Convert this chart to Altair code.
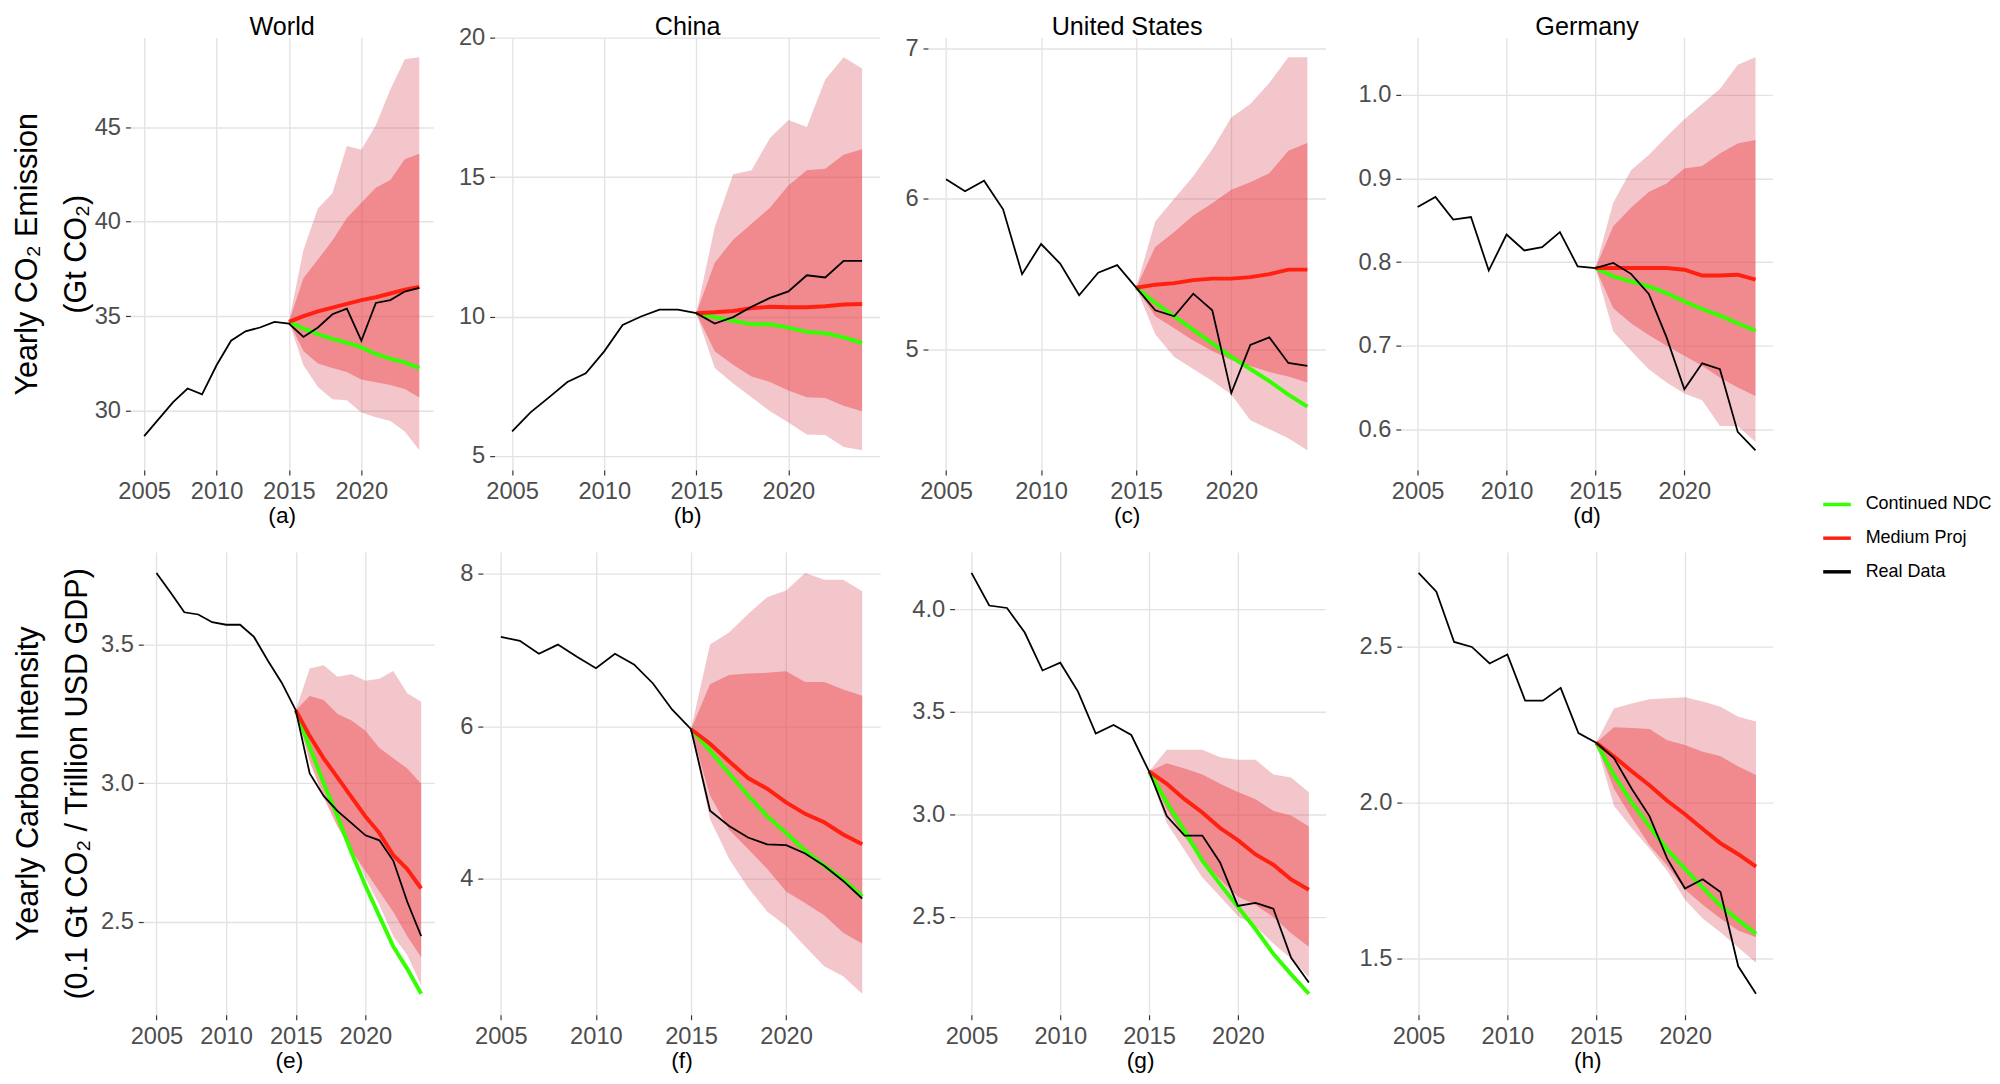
import altair as alt
import pandas as pd

FONT = "Liberation Sans"

YEARS_REAL = list(range(2005, 2025))
YEARS_PROJ = list(range(2015, 2025))
X_TICKS = [2005, 2010, 2015, 2020]

SERIES = ["Continued NDC", "Medium Proj", "Real Data"]
SERIES_COLORS = ["#33FF00", "#FF2010", "#000000"]
OUTER_COLOR = "#D44152"
INNER_COLOR = "#EE4E51"

PANEL_TITLES = ["World", "China", "United States", "Germany"]
PANEL_LETTERS = ["(a)", "(b)", "(c)", "(d)", "(e)", "(f)", "(g)", "(h)"]
Y_TITLE_TOP = ["Yearly CO\u2082 Emission", "(Gt CO\u2082)"]
Y_TITLE_BOTTOM = ["Yearly Carbon Intensity", "(0.1 Gt CO\u2082 / Trillion USD GDP)"]

# ---------- (a) World, yearly CO2 emission ----------
A_REAL = [28.65, 29.55, 30.45, 31.17, 30.86, 32.4, 33.7, 34.2, 34.4, 34.7,
          34.6, 33.9, 34.4, 35.1, 35.4, 33.7, 35.7, 35.85, 36.3, 36.5]
A_MED = [34.7, 35.0, 35.25, 35.45, 35.65, 35.85, 36.0, 36.2, 36.4, 36.55]
A_NDC = [34.7, 34.35, 34.05, 33.8, 33.6, 33.35, 33.0, 32.75, 32.55, 32.25]
A_OHI = [34.7, 38.5, 40.7, 41.5, 44.0, 43.8, 45.1, 47.0, 48.6, 48.7]
A_OLO = [34.7, 32.4, 31.25, 30.6, 30.55, 29.9, 29.65, 29.45, 28.9, 27.9]
A_IHI = [34.7, 37.0, 38.0, 39.0, 40.2, 41.0, 41.8, 42.2, 43.3, 43.6]
A_ILO = [34.7, 33.15, 32.5, 32.25, 32.05, 31.65, 31.5, 31.35, 31.15, 30.7]
A_TICKS = [30, 35, 40, 45]

# ---------- (b) China, yearly CO2 emission ----------
B_REAL = [5.88, 6.56, 7.1, 7.65, 7.96, 8.75, 9.7, 10.0, 10.25, 10.25,
          10.12, 9.75, 9.98, 10.35, 10.67, 10.9, 11.48, 11.4, 12.0, 12.0]
B_MED = [10.12, 10.15, 10.2, 10.3, 10.35, 10.33, 10.33, 10.37, 10.43, 10.45]
B_NDC = [10.12, 9.98, 9.85, 9.72, 9.72, 9.6, 9.45, 9.4, 9.25, 9.05]
B_OHI = [10.12, 13.2, 15.1, 15.25, 16.4, 17.05, 16.8, 18.5, 19.3, 18.9]
B_OLO = [10.12, 8.15, 7.6, 7.1, 6.6, 6.2, 5.77, 5.75, 5.32, 5.2]
B_IHI = [10.12, 11.93, 12.75, 13.33, 13.9, 14.7, 15.25, 15.3, 15.8, 16.0]
B_ILO = [10.12, 8.75, 8.27, 7.85, 7.65, 7.35, 7.1, 7.08, 6.8, 6.6]
B_TICKS = [5, 10, 15, 20]

# ---------- (c) United States, yearly CO2 emission ----------
C_REAL = [6.13, 6.05, 6.12, 5.93, 5.5, 5.7, 5.57, 5.36, 5.51, 5.56,
          5.41, 5.26, 5.22, 5.37, 5.26, 4.71, 5.03, 5.08, 4.91, 4.89]
C_MED = [5.41, 5.43, 5.44, 5.46, 5.47, 5.47, 5.48, 5.5, 5.53, 5.53]
C_NDC = [5.41, 5.31, 5.22, 5.13, 5.04, 4.95, 4.87, 4.79, 4.70, 4.62]
C_OHI = [5.41, 5.85, 6.0, 6.15, 6.33, 6.54, 6.63, 6.77, 6.94, 6.94]
C_OLO = [5.41, 5.1, 4.95, 4.87, 4.79, 4.7, 4.53, 4.47, 4.41, 4.33]
C_IHI = [5.41, 5.68, 5.78, 5.89, 5.97, 6.06, 6.11, 6.17, 6.32, 6.37]
C_ILO = [5.41, 5.22, 5.14, 5.06, 4.99, 4.93, 4.89, 4.85, 4.82, 4.78]
C_TICKS = [5, 6, 7]

# ---------- (d) Germany, yearly CO2 emission ----------
D_REAL = [0.866, 0.878, 0.851, 0.854, 0.790, 0.833, 0.814, 0.818, 0.836, 0.795,
          0.793, 0.799, 0.786, 0.762, 0.71, 0.648, 0.679, 0.672, 0.597, 0.575]
D_MED = [0.793, 0.793, 0.793, 0.793, 0.793, 0.791, 0.784, 0.784, 0.785, 0.779]
D_NDC = [0.793, 0.783, 0.777, 0.771, 0.763, 0.753, 0.744, 0.736, 0.727, 0.718]
D_OHI = [0.793, 0.871, 0.91, 0.928, 0.95, 0.971, 0.989, 1.007, 1.036, 1.045]
D_OLO = [0.793, 0.717, 0.694, 0.672, 0.656, 0.643, 0.635, 0.604, 0.604, 0.585]
D_IHI = [0.793, 0.843, 0.865, 0.884, 0.894, 0.912, 0.915, 0.93, 0.942, 0.946]
D_ILO = [0.793, 0.745, 0.727, 0.713, 0.7, 0.688, 0.676, 0.662, 0.65, 0.64]
D_TICKS = [0.6, 0.7, 0.8, 0.9, 1.0]

# ---------- (e) World, carbon intensity ----------
E_REAL = [3.759, 3.689, 3.617, 3.609, 3.581, 3.572, 3.572, 3.528, 3.442, 3.362,
          3.263, 3.035, 2.954, 2.899, 2.856, 2.812, 2.794, 2.72, 2.572, 2.448]
E_MED = [3.263, 3.17, 3.09, 3.02, 2.95, 2.88, 2.82, 2.74, 2.69, 2.62]
E_NDC = [3.263, 3.13, 3.0, 2.88, 2.75, 2.63, 2.52, 2.41, 2.33, 2.24]
E_OHI = [3.263, 3.414, 3.426, 3.384, 3.393, 3.37, 3.377, 3.405, 3.325, 3.294]
E_OLO = [3.263, 3.14, 2.997, 2.88, 2.763, 2.658, 2.56, 2.448, 2.38, 2.27]
E_IHI = [3.263, 3.315, 3.3, 3.25, 3.226, 3.189, 3.127, 3.09, 3.053, 2.998]
E_ILO = [3.263, 3.078, 2.948, 2.843, 2.757, 2.683, 2.609, 2.535, 2.448, 2.372]
E_TICKS = [2.5, 3.0, 3.5]

# ---------- (f) China, carbon intensity ----------
F_REAL = [7.17, 7.12, 6.95, 7.07, 6.91, 6.76, 6.95, 6.81, 6.56, 6.22,
          5.96, 4.89, 4.69, 4.54, 4.45, 4.44, 4.33, 4.17, 3.97, 3.74]
F_MED = [5.96, 5.77, 5.54, 5.32, 5.18, 5.0, 4.85, 4.74, 4.58, 4.45]
F_NDC = [5.96, 5.68, 5.38, 5.09, 4.82, 4.6, 4.37, 4.17, 3.99, 3.77]
F_OHI = [5.96, 7.07, 7.23, 7.47, 7.69, 7.78, 8.01, 7.92, 7.92, 7.77]
F_OLO = [5.96, 4.78, 4.26, 3.88, 3.57, 3.38, 3.11, 2.85, 2.72, 2.49]
F_IHI = [5.96, 6.55, 6.67, 6.69, 6.70, 6.72, 6.58, 6.58, 6.48, 6.4]
F_ILO = [5.96, 5.09, 4.64, 4.39, 4.13, 3.83, 3.68, 3.52, 3.29, 3.15]
F_TICKS = [4, 6, 8]

# ---------- (g) United States, carbon intensity ----------
G_REAL = [4.179, 4.02, 4.008, 3.888, 3.703, 3.741, 3.6, 3.395, 3.437, 3.388,
          3.21, 2.992, 2.897, 2.897, 2.766, 2.554, 2.569, 2.54, 2.301, 2.18]
G_MED = [3.21, 3.15, 3.075, 3.01, 2.934, 2.875, 2.805, 2.755, 2.683, 2.633]
G_NDC = [3.21, 3.06, 2.92, 2.775, 2.66, 2.55, 2.44, 2.32, 2.22, 2.125]
G_OHI = [3.21, 3.316, 3.316, 3.316, 3.28, 3.267, 3.267, 3.195, 3.18, 3.108]
G_OLO = [3.21, 2.958, 2.825, 2.692, 2.6, 2.505, 2.455, 2.37, 2.297, 2.205]
G_IHI = [3.21, 3.25, 3.225, 3.195, 3.15, 3.11, 3.075, 3.017, 2.995, 2.942]
G_ILO = [3.21, 3.025, 2.892, 2.775, 2.683, 2.6, 2.558, 2.5, 2.42, 2.355]
G_TICKS = [2.5, 3.0, 3.5, 4.0]

# ---------- (h) Germany, carbon intensity ----------
H_REAL = [2.735, 2.675, 2.514, 2.498, 2.445, 2.474, 2.326, 2.326, 2.367, 2.222,
          2.191, 2.142, 2.044, 1.956, 1.82, 1.724, 1.754, 1.713, 1.475, 1.387]
H_MED = [2.191, 2.147, 2.1, 2.055, 2.005, 1.962, 1.915, 1.869, 1.834, 1.794]
H_NDC = [2.191, 2.088, 2.0, 1.923, 1.849, 1.787, 1.727, 1.67, 1.623, 1.579]
H_OHI = [2.191, 2.301, 2.317, 2.33, 2.334, 2.337, 2.323, 2.306, 2.274, 2.259]
H_OLO = [2.191, 1.989, 1.918, 1.852, 1.781, 1.688, 1.628, 1.584, 1.535, 1.486]
H_IHI = [2.191, 2.241, 2.238, 2.235, 2.199, 2.184, 2.162, 2.148, 2.115, 2.088]
H_ILO = [2.191, 2.044, 1.951, 1.863, 1.798, 1.721, 1.672, 1.628, 1.59, 1.568]
H_TICKS = [1.5, 2.0, 2.5]

color_scale = alt.Scale(domain=SERIES, range=SERIES_COLORS)
color_panel = alt.Color("series:N", scale=color_scale, legend=None)


def panel(real, med, ndc, ohi, olo, ihi, ilo, ticks, fmt, width, height,
          extent, xtitle, title=None, ytitle=None):
    real_df = pd.DataFrame({"year": YEARS_REAL, "value": real, "series": "Real Data"})
    proj_df = pd.DataFrame({
        "year": YEARS_PROJ + YEARS_PROJ,
        "value": ndc + med,
        "series": ["Continued NDC"] * len(ndc) + ["Medium Proj"] * len(med),
    })
    band_df = pd.DataFrame({"year": YEARS_PROJ, "olo": olo, "ohi": ohi,
                            "ilo": ilo, "ihi": ihi})
    vals = real + med + ndc + ohi + olo + ihi + ilo
    lo, hi = min(vals), max(vals)
    pad = 0.05 * (hi - lo)
    xs = alt.Scale(domain=[2004.05, 2024.95], nice=False, zero=False)
    ys = alt.Scale(domain=[lo - pad, hi + pad], nice=False, zero=False)
    x_bottom = alt.X("year:Q", scale=xs, axis=alt.Axis(
        values=X_TICKS, format="d", title=xtitle, labelFlush=False))
    if ytitle is not None:
        yaxis = alt.Axis(values=ticks, format=fmt, minExtent=extent, title=ytitle)
    else:
        yaxis = alt.Axis(values=ticks, format=fmt, minExtent=extent, title=None)

    if title is not None:
        # panel name drawn as the title of a bare axis along the top edge
        x_inner = alt.X("year:Q", scale=xs, axis=alt.Axis(
            orient="top", title=title, labels=False, ticks=False, grid=False,
            domain=False, titleFontSize=25.5, titlePadding=-2, titleColor="black"))
        x_rest = alt.X("year:Q", scale=xs, axis=None)
    else:
        x_inner = x_bottom
        x_rest = x_bottom

    outer = alt.Chart(band_df).mark_area(color=OUTER_COLOR, opacity=0.3).encode(
        x=x_bottom, y=alt.Y("olo:Q", scale=ys, axis=yaxis), y2="ohi:Q")
    inner = alt.Chart(band_df).mark_area(color=INNER_COLOR, opacity=0.5).encode(
        x=x_inner, y=alt.Y("ilo:Q", scale=ys, axis=yaxis), y2="ihi:Q")
    proj = alt.Chart(proj_df).mark_line(strokeWidth=4).encode(
        x=x_rest, y=alt.Y("value:Q", scale=ys, axis=yaxis), color=color_panel)
    obs = alt.Chart(real_df).mark_line(strokeWidth=1.8).encode(
        x=x_rest, y=alt.Y("value:Q", scale=ys, axis=yaxis), color=color_panel)
    layer = alt.layer(outer, inner, proj, obs)
    if title is not None:
        layer = layer.resolve_axis(x="independent")
    return layer.properties(width=width, height=height)


H1 = 438
H2 = 469

a = panel(A_REAL, A_MED, A_NDC, A_OHI, A_OLO, A_IHI, A_ILO, A_TICKS, "d",
          306.6, H1, 37, PANEL_LETTERS[0], PANEL_TITLES[0], Y_TITLE_TOP)
b = panel(B_REAL, B_MED, B_NDC, B_OHI, B_OLO, B_IHI, B_ILO, B_TICKS, "d",
          390, H1, 52, PANEL_LETTERS[1], PANEL_TITLES[1])
c = panel(C_REAL, C_MED, C_NDC, C_OHI, C_OLO, C_IHI, C_ILO, C_TICKS, "d",
          402.7, H1, 38.4, PANEL_LETTERS[2], PANEL_TITLES[2])
d = panel(D_REAL, D_MED, D_NDC, D_OHI, D_OLO, D_IHI, D_ILO, D_TICKS, ".1f",
          376.5, H1, 65.6, PANEL_LETTERS[3], PANEL_TITLES[3])
e = panel(E_REAL, E_MED, E_NDC, E_OHI, E_OLO, E_IHI, E_ILO, E_TICKS, ".1f",
          295, H2, 49.6, PANEL_LETTERS[4], None, Y_TITLE_BOTTOM)
f = panel(F_REAL, F_MED, F_NDC, F_OHI, F_OLO, F_IHI, F_ILO, F_TICKS, "d",
          402.7, H2, 38.8, PANEL_LETTERS[5])
g = panel(G_REAL, G_MED, G_NDC, G_OHI, G_OLO, G_IHI, G_ILO, G_TICKS, ".1f",
          376, H2, 64.1, PANEL_LETTERS[6])
h = panel(H_REAL, H_MED, H_NDC, H_OHI, H_OLO, H_IHI, H_ILO, H_TICKS, ".1f",
          376, H2, 66.4, PANEL_LETTERS[7])

# an empty, invisible narrow view starts each row, so that the rows line up on
# their left edges and each row keeps its own axis-label offsets
spacer_df = pd.DataFrame({"series": SERIES[:1]})


def spacer():
    return alt.Chart(spacer_df).mark_point(opacity=0, size=0).properties(width=2, height=1)


row1 = alt.hconcat(spacer(), alt.hconcat(a, b, c, d, spacing=10), spacing=0)
row2 = alt.hconcat(spacer(), alt.hconcat(e, f, g, h, spacing=10), spacing=0)
grid = alt.vconcat(row1, row2, spacing=25)

# legend lives in its own tiny view to the right of the panel grid
legend_df = pd.DataFrame({"series": SERIES})
legend = alt.Legend(
    title=None, orient="none", legendX=49, legendY=457,
    symbolType="stroke", symbolStrokeWidth=3.5, symbolSize=784, symbolOpacity=1,
    labelFontSize=18.2, labelColor="black", labelFont=FONT,
    labelOffset=13, rowPadding=9.1, labelLimit=400,
)
legend_view = alt.Chart(legend_df).mark_point(opacity=0, size=0).encode(
    color=alt.Color("series:N", scale=color_scale, legend=legend)
).properties(width=1, height=1)

chart = (
    alt.hconcat(grid, legend_view, spacing=0)
    .resolve_scale(color="independent")
    .resolve_legend(color="independent")
    .properties(padding={"left": 2, "top": 0, "right": 0, "bottom": 0})
    .configure(font=FONT)
    .configure_view(stroke=None)
    .configure_axis(
        labelFontSize=24, labelColor="#4D4D4D", labelFont=FONT,
        tickColor="#333333", tickSize=5, tickWidth=1.2,
        domain=False, grid=True, gridColor="#E3E3E3", gridWidth=1.4,
        titleColor="black", titleFontWeight="normal", titleFont=FONT,
    )
    .configure_axisX(labelPadding=5, titleFontSize=23, titlePadding=1)
    .configure_axisY(labelPadding=5, titleFontSize=31, titleLineHeight=50,
                     titlePadding=1, titleLimit=1000)
)

chart.save("out.html", embed_options={"renderer": "svg", "actions": False})
